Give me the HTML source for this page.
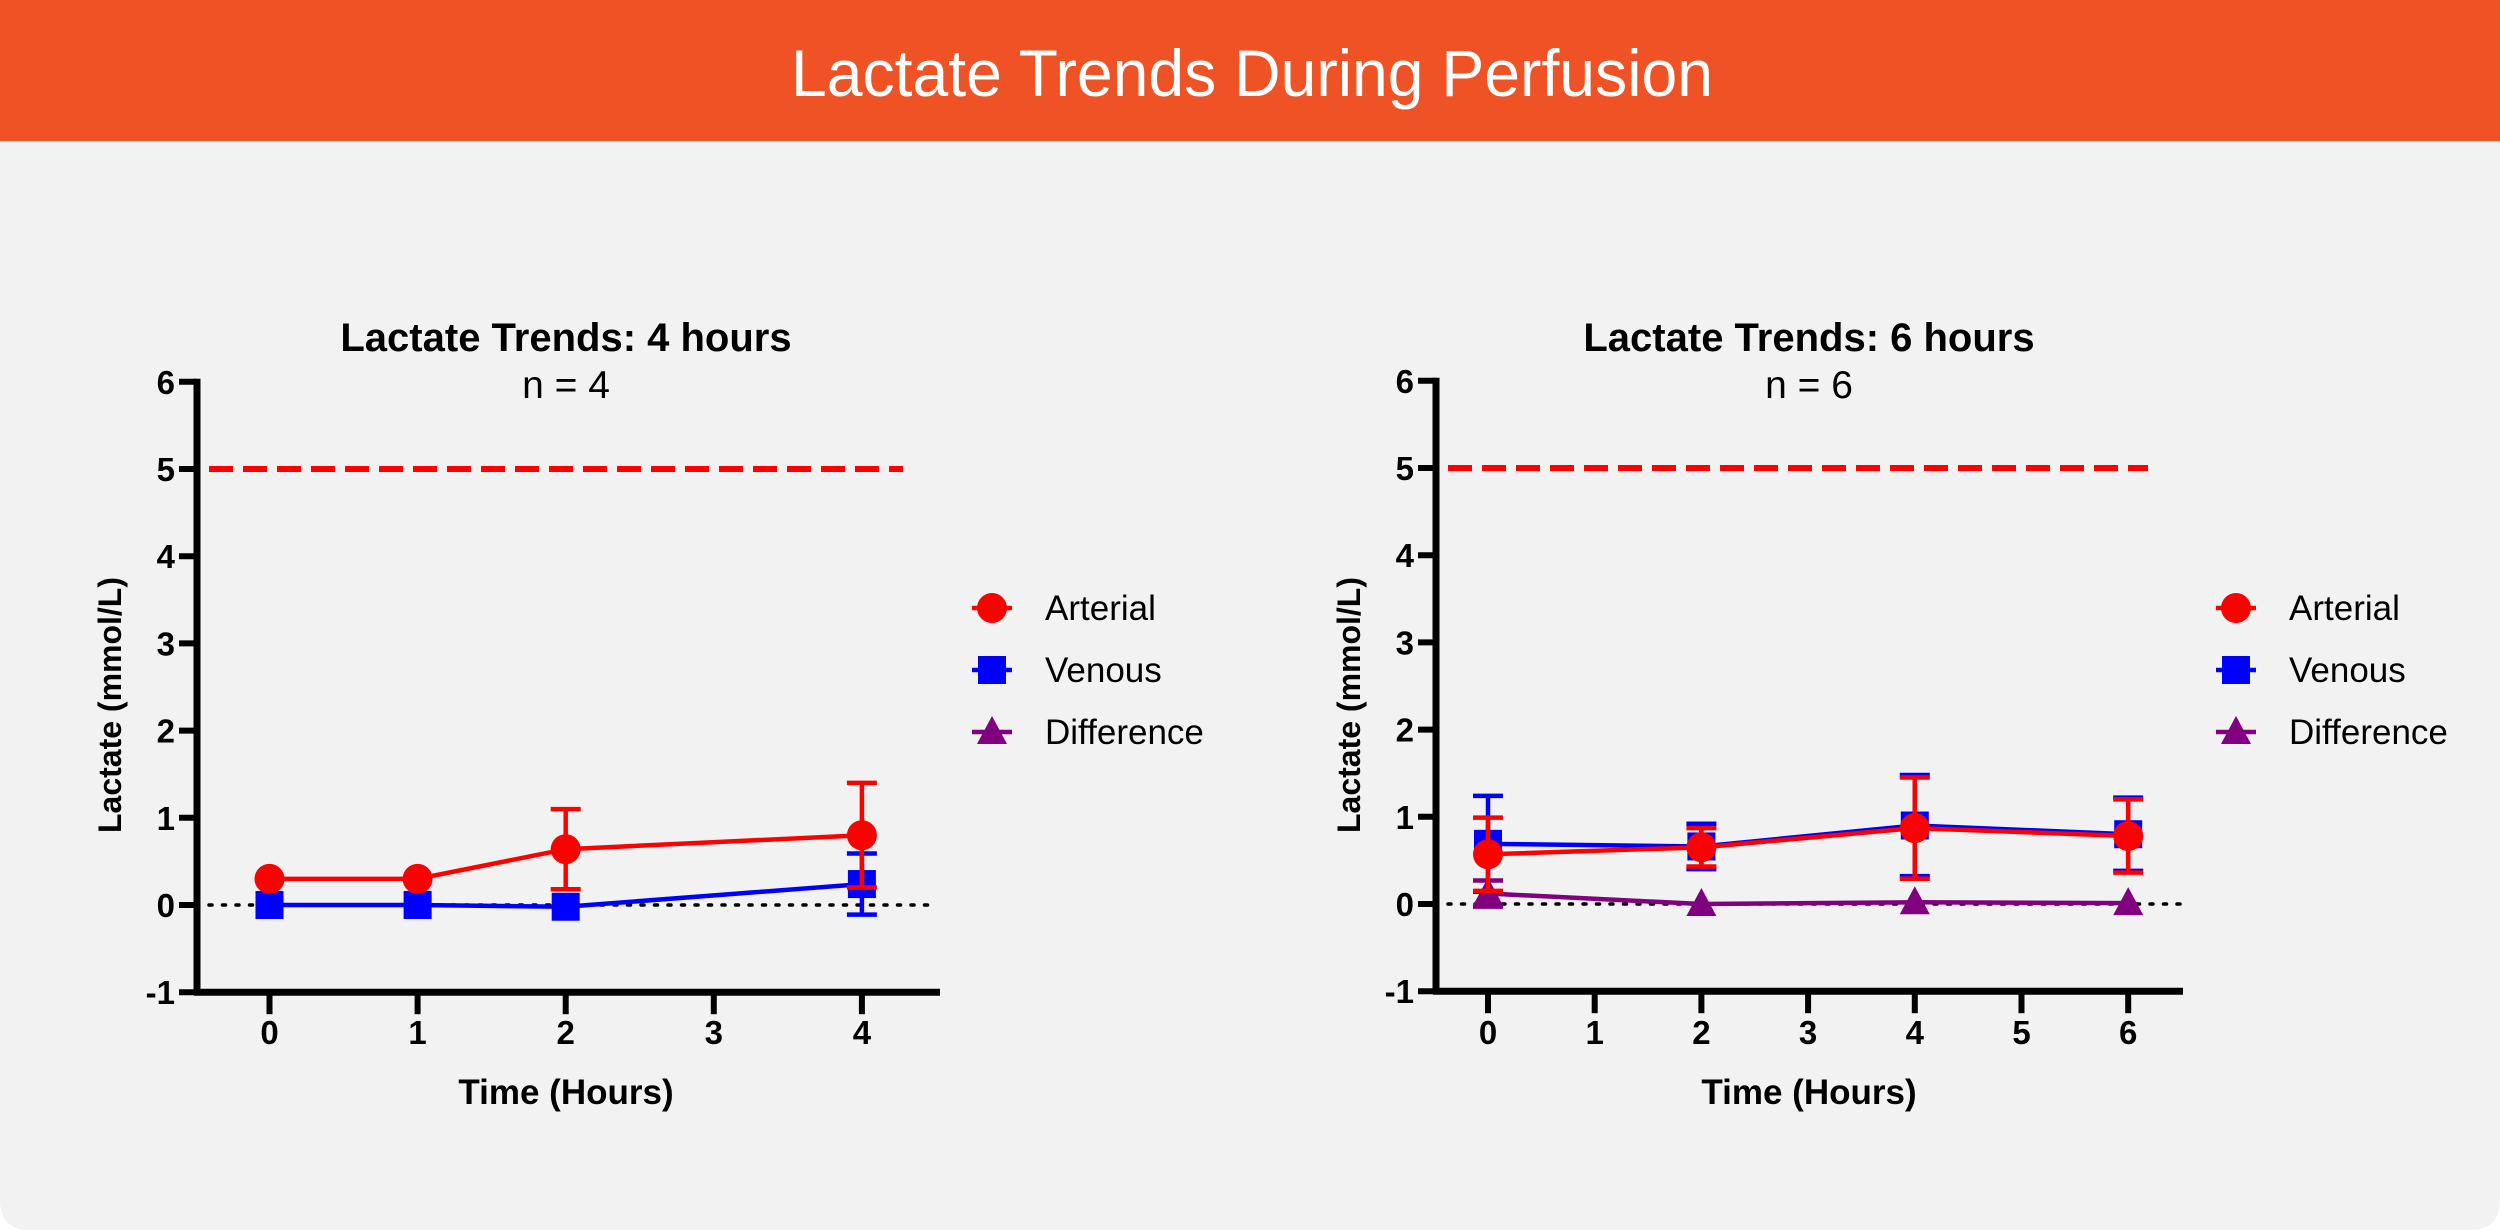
<!DOCTYPE html>
<html><head><meta charset="utf-8"><style>
html,body{margin:0;padding:0;background:#fff;}
svg{display:block;}
text{font-family:"Liberation Sans",Arial,sans-serif;}
</style></head><body>
<svg id="root" width="2500" height="1230" viewBox="0 0 2500 1230" xmlns="http://www.w3.org/2000/svg">
  <path d="M0,0 H2500 V1200 Q2500,1230 2470,1230 H30 Q0,1230 0,1200 Z" fill="#F2F2F2"/>
  <path d="M0,0 H2500 V141 H0 Z" fill="#EF5325"/>
  <text x="1252" y="96" text-anchor="middle" font-size="66" fill="#fff" textLength="922" lengthAdjust="spacingAndGlyphs">Lactate Trends During Perfusion</text>
  <g id="left"></g>
  <g id="right"></g>
</svg>
<script>
// Chart 1: 4 hours
const c1Times = [0, 1, 2, 4];
const c1XTicks = [0, 1, 2, 3, 4];
const c1Arterial = [0.3, 0.3, 0.64, 0.8];
const c1ArterialErr = [0, 0, 0.46, 0.6];
const c1Venous = [0, 0, -0.02, 0.24];
const c1VenousErr = [0, 0, 0, 0.35];
const c1Difference = [];
const c1DifferenceErr = [];
// Chart 2: 6 hours
const c2Times = [0, 2, 4, 6];
const c2XTicks = [0, 1, 2, 3, 4, 5, 6];
const c2Arterial = [0.57, 0.65, 0.87, 0.78];
const c2ArterialErr = [0.42, 0.22, 0.58, 0.42];
const c2Venous = [0.69, 0.66, 0.9, 0.8];
const c2VenousErr = [0.55, 0.26, 0.58, 0.42];
const c2Difference = [0.12, 0, 0.02, 0.01];
const c2DifferenceErr = [0.15, 0, 0, 0];
const yTicks = [-1, 0, 1, 2, 3, 4, 5, 6];
const threshold = 5;
const legendLabels = ["Arterial", "Venous", "Difference"];

const NS = "http://www.w3.org/2000/svg";
function mk(parent, tag, attrs, txt) {
  const e = document.createElementNS(NS, tag);
  for (const k in attrs) e.setAttribute(k, attrs[k]);
  if (txt !== undefined) e.textContent = txt;
  parent.appendChild(e);
  return e;
}
function marker(g, shape, cx, cy, color) {
  let m;
  if (shape === "circle") m = mk(g, "circle", {cx: cx, cy: cy, r: 15, fill: color});
  else if (shape === "square") m = mk(g, "rect", {x: cx - 14, y: cy - 14, width: 28, height: 28, fill: color});
  else m = mk(g, "polygon", {points: `${cx},${cy - 16} ${cx + 15},${cy + 12} ${cx - 15},${cy + 12}`, fill: color});
  return m;
}
function drawChart(gid, cfg) {
  const g = document.getElementById(gid);
  const y = v => cfg.y0 - v * cfg.yUnit;
  const x = v => cfg.x0 + v * cfg.xUnit;
  let t = mk(g, "text", {x: cfg.cx, y: 351, "text-anchor": "middle", "font-size": 40, "font-weight": "bold"}, cfg.title);
  
  
  t = mk(g, "text", {x: cfg.cx, y: 398, "text-anchor": "middle", "font-size": 39}, cfg.sub);
  
  
  let d = mk(g, "line", {x1: cfg.axX + 12, x2: cfg.dashEnd, y1: y(threshold), y2: y(threshold), stroke: "#FF0000", "stroke-width": 6, "stroke-dasharray": "24 10"});
  
  
  d = mk(g, "line", {x1: cfg.axX + 12, x2: cfg.axEnd - 2, y1: y(0), y2: y(0), stroke: "#000", "stroke-width": 3.5, "stroke-dasharray": "3 10.5", "stroke-linecap": "round"});
  
  
  const ax = mk(g, "g", {});
  
  
  mk(ax, "line", {x1: cfg.axX, x2: cfg.axX, y1: y(6) - 3, y2: y(-1) + 3, stroke: "#000", "stroke-width": 7});
  yTicks.forEach(v => {
    mk(ax, "line", {x1: cfg.axX - 18, x2: cfg.axX, y1: y(v), y2: y(v), stroke: "#000", "stroke-width": 6});
    const l = mk(ax, "text", {x: cfg.axX - 22, y: y(v) + 12, "text-anchor": "end", "font-size": 33, "font-weight": "bold"}, String(v));
    
    
  });
  const xa = mk(g, "g", {});
  
  
  mk(xa, "line", {x1: cfg.axX - 3, x2: cfg.axEnd, y1: y(-1), y2: y(-1), stroke: "#000", "stroke-width": 7});
  cfg.xTicks.forEach(v => {
    mk(xa, "line", {x1: x(v), x2: x(v), y1: y(-1), y2: y(-1) + 22, stroke: "#000", "stroke-width": 6});
    const l = mk(xa, "text", {x: x(v), y: 1044, "text-anchor": "middle", "font-size": 33, "font-weight": "bold"}, String(v));
    
    
  });
  t = mk(g, "text", {x: cfg.cx, y: 1104, "text-anchor": "middle", "font-size": 35, "font-weight": "bold"}, "Time (Hours)");
  
  
  t = mk(g, "text", {x: 0, y: 0, "text-anchor": "middle", "font-size": 32, "font-weight": "bold", transform: `translate(${cfg.axX - 76},${705}) rotate(-90)`}, "Lactate (mmol/L)");
  
  
  const series = [
    {name: "difference", vals: cfg.diff, err: cfg.diffErr, color: "#800080", shape: "tri"},
    {name: "venous", vals: cfg.ven, err: cfg.venErr, color: "#0000FF", shape: "square"},
    {name: "arterial", vals: cfg.art, err: cfg.artErr, color: "#FF0000", shape: "circle"}
  ];
  series.forEach(s => {
    if (!s.vals.length) return;
    const sg = mk(g, "g", {});
    
    
    s.vals.forEach((v, i) => {
      const e = s.err[i];
      if (e > 0) {
        const eb = mk(sg, "path", {d: `M${x(cfg.times[i])},${y(v - e)} V${y(v + e)} M${x(cfg.times[i]) - 15},${y(v + e)} h30 M${x(cfg.times[i]) - 15},${y(v - e)} h30`, stroke: s.color, "stroke-width": 4.5, fill: "none"});
        
        
      }
    });
    const pts = s.vals.map((v, i) => `${x(cfg.times[i])},${y(v)}`).join(" ");
    const pl = mk(sg, "polyline", {points: pts, fill: "none", stroke: s.color, "stroke-width": 4.5});
    
    
    s.vals.forEach((v, i) => {
      const m = marker(sg, s.shape, x(cfg.times[i]), y(v), s.color);
      
      
    });
  });
  const lg = mk(g, "g", {});
  
  
  const lc = ["#FF0000", "#0000FF", "#800080"], ls = ["circle", "square", "tri"];
  legendLabels.forEach((lab, i) => {
    const ly = 608 + i * 62;
    const eg = mk(lg, "g", {});
    
    
    mk(eg, "line", {x1: cfg.legX - 20, x2: cfg.legX + 20, y1: ly, y2: ly, stroke: lc[i], "stroke-width": 4.5});
    marker(eg, ls[i], cfg.legX, ly, lc[i]);
    mk(eg, "text", {x: cfg.legX + 53, y: ly + 12, "font-size": 35}, lab);
  });
}
drawChart("left", {title: "Lactate Trends: 4 hours", sub: "n = 4", cx: 566, x0: 269.5, xUnit: 148.1, y0: 905, yUnit: 87.2,
  axX: 197, axEnd: 940, dashEnd: 903, xTicks: c1XTicks, times: c1Times, legX: 992,
  art: c1Arterial, artErr: c1ArterialErr, ven: c1Venous, venErr: c1VenousErr, diff: c1Difference, diffErr: c1DifferenceErr});
drawChart("right", {title: "Lactate Trends: 6 hours", sub: "n = 6", cx: 1809, x0: 1488, xUnit: 106.7, y0: 904, yUnit: 87.2,
  axX: 1436, axEnd: 2183, dashEnd: 2148, xTicks: c2XTicks, times: c2Times, legX: 2236,
  art: c2Arterial, artErr: c2ArterialErr, ven: c2Venous, venErr: c2VenousErr, diff: c2Difference, diffErr: c2DifferenceErr});
</script>
</body></html>
